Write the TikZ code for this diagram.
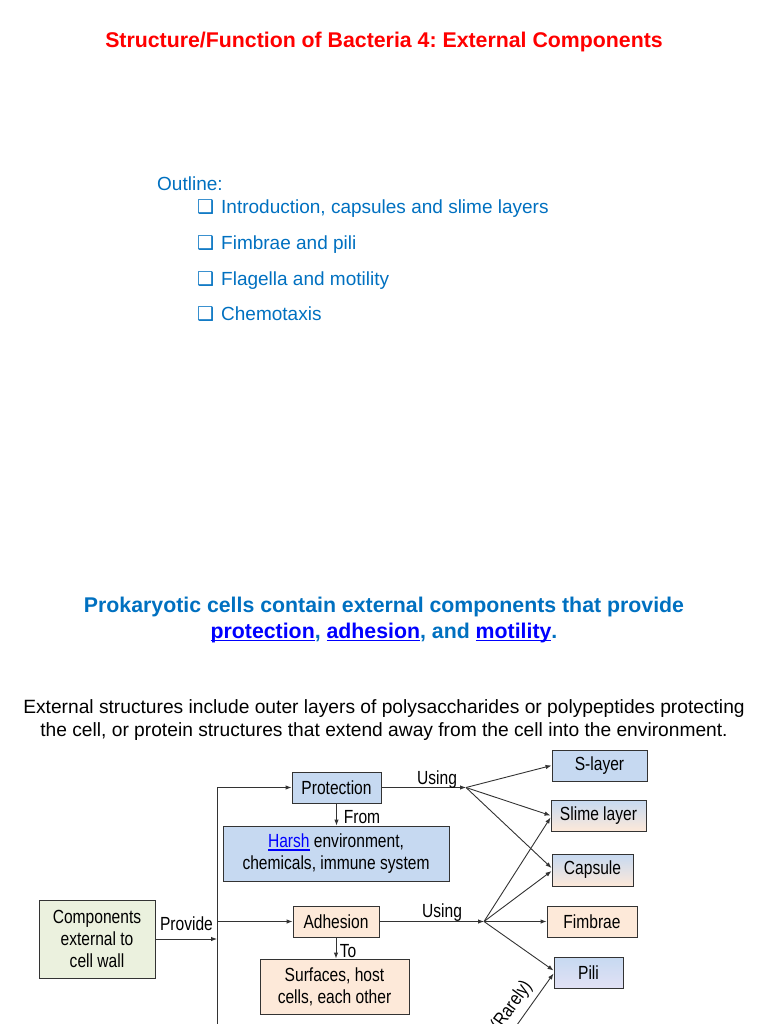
\documentclass[tikz,border=0pt]{standalone}
\usepackage{fontspec}
\setmainfont{Liberation Sans}
\newfontfamily\narrow[FakeStretch=0.82]{Liberation Sans}
\newfontfamily\dejavu{DejaVu Sans}
\usetikzlibrary{arrows.meta}
\frenchspacing
\definecolor{mblue}{HTML}{C6D9F1}
\definecolor{mpeach}{HTML}{FDE9D9}
\definecolor{mgreen}{HTML}{EBF1DE}
\definecolor{mlav}{HTML}{E2E1F5}
\definecolor{oblue}{HTML}{0070C0}
\definecolor{lblue}{HTML}{0000FF}
\definecolor{lnc}{HTML}{333333}
\newcommand\uln[1]{\setbox0\hbox{#1}\rlap{\rule[-3.4pt]{\wd0}{1.4pt}}\box0}
\newcommand\chk{\makebox[24pt][l]{\dejavu\char"2751}}
\begin{document}
\begin{tikzpicture}[x=1pt,y=-1pt,
  box/.style={draw=lnc, line width=0.9pt, inner sep=0pt, align=center,
    font=\narrow\fontsize{19}{22}\selectfont},
  lbl/.style={font=\narrow\fontsize{19}{22}\selectfont, inner sep=0pt, anchor=base},
  conn/.style={draw=lnc, line width=0.9pt},
  arr/.style={conn, -{Latex[length=6pt,width=4.5pt]}},
  outl/.style={font=\fontsize{19}{22}\selectfont, text=oblue, inner sep=0pt, anchor=base west}]
\useasboundingbox (0,0) rectangle (768,1024);
\clip (0,0) rectangle (768,1024);

% title
\node[anchor=base, inner sep=0pt, text=red, font=\bfseries\fontsize{21.3}{25}\selectfont] (title) at (384,48)
  {Structure/Function of Bacteria 4: External Components};

% outline
\node[outl] (outline) at (157,191) {Outline:};
\node[outl] (it1) at (197,214) {\chk Introduction, capsules and slime layers};
\node[outl] (it2) at (197,249) {\chk Fimbrae and pili};
\node[outl] (it3) at (197,285) {\chk Flagella and motility};
\node[outl] (it4) at (197,320) {\chk Chemotaxis};

% heading
\node[anchor=base, inner sep=0pt, text=oblue, font=\bfseries\fontsize{21.3}{25}\selectfont] (head1) at (384,612)
  {Prokaryotic cells contain external components that provide};
\node[anchor=base, inner sep=0pt, text=oblue, font=\bfseries\fontsize{21.3}{25}\selectfont] (head2) at (384,638)
  {\textcolor{lblue}{\uln{protection}}, \textcolor{lblue}{\uln{adhesion}}, and \textcolor{lblue}{\uln{motility}}.};

% body text
\node[anchor=base, inner sep=0pt, font=\fontsize{19.2}{23}\selectfont] (body1) at (384,713)
  {External structures include outer layers of polysaccharides or polypeptides protecting};
\node[anchor=base, inner sep=0pt, font=\fontsize{19.2}{23}\selectfont] (body2) at (384,736)
  {the cell, or protein structures that extend away from the cell into the environment.};

% boxes
\node[box, fill=mgreen, minimum width=116pt, minimum height=78pt] (comp) at (97,939) {Components\\external to\\cell wall};
\node[box, fill=mblue, minimum width=89pt, minimum height=31pt] (prot) at (336.5,787.5) {Protection};
\node[box, fill=mblue, minimum width=226pt, minimum height=55pt] (harsh) at (336,853.5)
  {\textcolor{lblue}{\uln{Harsh}} environment,\\chemicals, immune system};
\node[box, fill=mpeach, minimum width=86pt, minimum height=31pt] (adh) at (336,921.5) {Adhesion};
\node[box, fill=mpeach, minimum width=149pt, minimum height=55pt] (surf) at (334.5,986.5) {Surfaces, host\\cells, each other};
\node[box, fill=mblue, minimum width=95pt, minimum height=31pt] (slayer) at (599.5,765.5) {S-layer};
\node[box, top color=mblue, bottom color=mpeach, minimum width=95pt, minimum height=31pt] (slime) at (598.5,815.5) {Slime layer};
\node[box, top color=mblue, bottom color=mpeach, minimum width=81pt, minimum height=32pt] (caps) at (592.5,870) {Capsule};
\node[box, fill=mpeach, minimum width=90pt, minimum height=31pt] (fimb) at (592,921.5) {Fimbrae};
\node[box, top color=mblue, bottom color=mlav, minimum width=69pt, minimum height=31pt] (pili) at (588.5,972.5) {Pili};

% junction coordinates
\coordinate (vtop) at (217,787.5);
\coordinate (vadh) at (217,921.5);
\coordinate (vprov) at (217,939);
\coordinate (vbot) at (217,1035);
\coordinate (j1) at (466,787.5);
\coordinate (j2) at (484,921.5);
\coordinate (rb) at (497,1053);

% connectors
\draw[conn] (vtop) -- (vbot);
\draw[arr] (comp.east) -- (vprov);
\draw[arr] (vtop) -- (prot.west);
\draw[arr] (vadh) -- (adh.west);
\draw[arr] (prot.south) -- (prot.south |- harsh.north);
\draw[arr] (adh.south) -- (adh.south |- surf.north);
\draw[arr] (prot.east) -- (j1);
\draw[arr] (adh.east) -- (j2);
\draw[arr] (j1) -- (slayer.west);
\draw[arr] (j1) -- (slime.west);
\draw[arr] (j1) -- ([yshift=2pt]caps.west);
\draw[arr] (j2) -- ([yshift=-2pt]slime.west);
\draw[arr] (j2) -- ([yshift=-1pt]caps.west);
\draw[arr] (j2) -- (fimb.west);
\draw[arr] (j2) -- ([yshift=2pt]pili.west);
\draw[arr] (rb) -- ([yshift=-1pt]pili.west);

% labels
\node[lbl] (lprov) at (186.5,930) {Provide};
\node[lbl] (lfrom) at (362,823) {From};
\node[lbl] (lto) at (348,957) {To};
\node[lbl] (lus1) at (437,784) {Using};
\node[lbl] (lus2) at (442,917) {Using};
\node[font=\narrow\fontsize{19}{22}\selectfont, inner sep=0pt, rotate=54] (lrare) at (512,1006) {(Rarely)};
\end{tikzpicture}
\end{document}
